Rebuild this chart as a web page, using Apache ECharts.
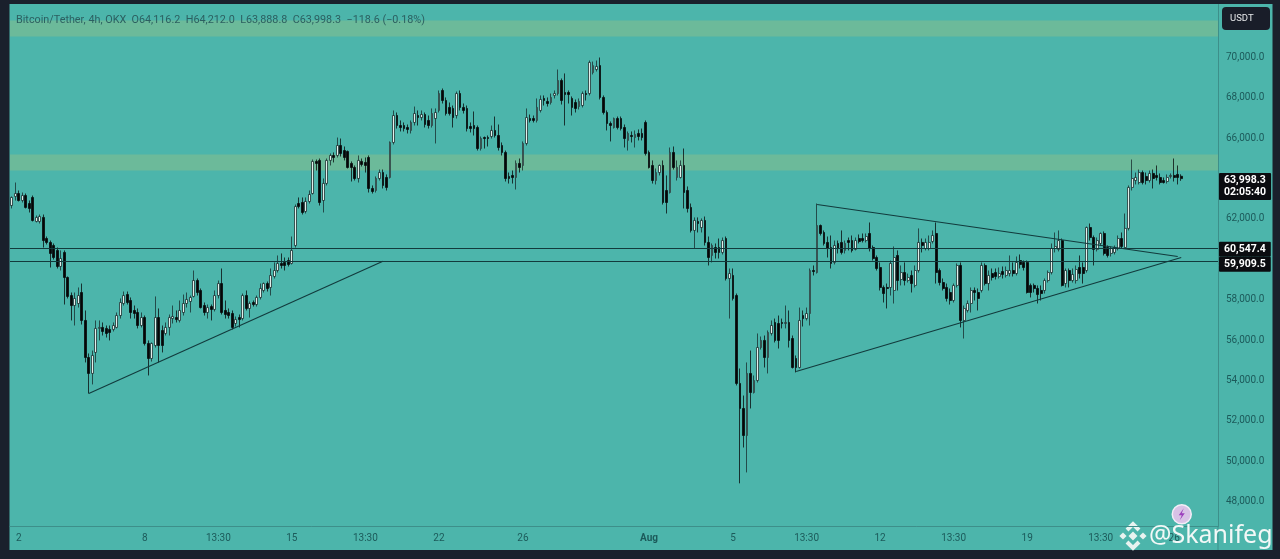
<!DOCTYPE html>
<html><head><meta charset="utf-8">
<style>html,body{margin:0;padding:0;background:#1a202c}#c{width:1280px;height:559px}</style>
<script src="https://cdn.jsdelivr.net/npm/echarts@6/dist/echarts.min.js"></script>
</head><body><div id="c"></div>
<script>
// Each row: [open, close, low, high]
const candlesJulyA = [
[62665,63065,62520,63115],[63115,63260,62915,63805],[63260,62915,62865,63410],[62915,63160,62815,63310],
[63160,62570,62520,63260],[62765,62520,62320,62915],[63065,61925,61875,63160],[61875,62075,61825,62170],
[61875,62120,61775,62220],[62075,60930,60585,62220],[61030,60835,60735,61130],[60835,60290,59595,60930],
[60685,60090,59990,60785],[60440,59645,59545,60585],[59645,60040,59445,60440],[60340,59100,57760,60440],
[59100,58160,58060,59150],[58205,57710,56970,58355],[57710,58060,56720,58355],[57810,58205,57610,58605],
[58355,56970,56770,58800],[56970,55135,54890,57465],[55135,54345,53350,55335],[54345,55235,53800,55480],
[55385,56575,54890,56970],[56575,56625,55980,56970],[56625,56425,56225,56870],[56575,56325,56125,56720],
[56525,56375,55980,56720],[56525,56720,56425,56870],[56625,57215,56575,57365],[57215,57860,57065,58060],
[57810,58205,57710,58405],[58255,57860,57760,58405],[57960,57365,57065,58110],[57465,57315,57065,57710],
[57365,56720,56575,57565],[56720,57115,56625,57365],[57115,55830,55730,57215],[55830,55085,54245,55980],
[55085,55830,54935,55880]];
const candlesJulyB = [
[55730,57115,55630,58160],[57115,55730,54890,57565],[56475,55730,55385,56720],[56325,56625,56225,56870],
[56625,57115,56225,57265],[57065,57165,56820,57710],[57115,57015,56870,57465],[56970,57465,56870,57960],
[57365,57810,57215,58255],[57810,58010,57610,58355],[57910,58110,57365,58205],[58160,58950,58110,59445],
[58950,58355,58205,59050],[58455,57610,57565,58555],[57710,57365,57215,57860],[57365,57610,57065,57760],
[57660,57515,56970,57760],[57515,58205,57415,58455],[58205,58800,58060,58950],[58800,57365,57265,59545],
[57465,57265,57065,57960],[57365,57215,57065,57565],[57315,56625,56525,57465],[56820,57015,56670,57165],
[57115,57015,56625,57265],[57065,58205,56970,58305],[58205,57565,57465,58455],[57565,57810,57115,57910],
[57860,57760,57660,57960],[57760,58110,57660,58205],[58110,58555,58010,58800],[58455,58800,58355,58850],
[58800,58555,58405,58900],[58605,59200,58205,59545],[59150,59445,59050,59845],[59445,59795,59345,60190],
[59795,59695,59545,60290],[59845,59695,59445,60090],[59940,59745,59645,60090],[59795,60440,59745,61130],
[60685,62615,60585,62715]];
const candlesJulyC = [
[62765,62615,62520,63065],[62815,62320,62220,63065],[62370,62865,62270,63065],[62865,63210,62765,63410],
[63260,64850,63210,64945],[64850,64750,64400,64945],[64900,62815,62665,64995],[62915,63760,62320,64005],
[63760,64900,63660,64995],[64900,65145,64650,65245],[65145,65045,64800,65295],[65145,65640,65045,66035],
[65640,65245,65095,65985],[65390,65045,64900,65590],[65345,64550,64500,65390],[64750,64550,63855,64850],
[64550,64005,63905,64650],[64005,64900,63805,65145],[64850,64700,64600,64995],[64800,64650,64300,65045],
[65045,63510,63310,65145],[63510,63360,63260,63660],[63410,64005,63310,64105],[64005,64300,63905,64450],
[64300,63660,63510,64450],[64055,63560,63410,64205],[64055,65790,64005,65840],[65790,67125,65690,67375],
[67125,66630,66480,67275],[66630,66530,66335,66880],[66630,66480,66335,66780],[66530,66435,66235,66680],
[66385,66780,66235,66880],[66780,67225,66630,67570],[67125,67025,66630,67375],[67025,67175,66880,67375],
[67175,66680,66530,67275],[66880,66630,66480,67125],[66630,67225,66530,67475],[66975,67275,65740,67475]];
const candlesJulyD = [
[67375,68215,67275,68365],[68365,67870,67720,68465],[67870,67225,67125,68020],[67525,67225,67125,67770],
[67475,67025,66530,67620],[67125,68215,66975,68315],[68215,67525,67375,68365],[67525,67375,67225,67720],
[67475,66480,66335,67620],[66580,66480,66285,66780],[66630,66480,66135,67325],[66530,65490,65390,66630],
[65490,65985,65390,66085],[66035,65985,65490,66085],[66035,65985,65590,66135],[66085,66385,65985,66630],
[66385,66135,66035,67075],[66135,65540,65390,66680],[65640,65295,65145,65790],[65295,64005,63855,65390],
[64105,64005,63755,64300],[64155,64055,63755,64400],[64055,64750,63460,64900],[64750,64550,64300,64995],
[64650,65740,64400,65840],[65740,67025,65640,67475],[66975,66880,66780,67175],[66975,66880,66780,67125],
[66880,67525,66780,67970],[67375,67920,67275,68120],[67970,67870,67620,68120],[67820,67720,67570,68020],
[67770,68020,67670,68215],[68120,68215,67970,68365],[68215,68860,68120,69405],[68860,67870,67670,68960],
[68265,68165,66630,69210],[68265,68165,67720,68365],[67970,67525,67125,68070],[67770,67475,67275,67920],
[67570,67820,67425,67970],[67620,68215,67525,68315],[68215,68165,67870,68365],[68215,69755,68120,69850]];
const candlesAugA = [
[69255,69600,69160,69800],[69405,69555,69305,69850],[69600,68020,67920,70000],[68020,67275,67175,68120],
[67275,66730,66385,67375],[66730,66630,65840,66830],[66530,66975,66480,67025],[66975,66530,66435,67075],
[66975,66480,66385,67075],[66530,65985,65540,66680],[65890,66235,65390,66335],[66135,66085,65790,66335],
[66035,66185,65540,66385],[66235,66085,65890,66435],[66235,66035,65890,66480],[66780,65245,65145,66880],
[65295,64550,64500,65390],[64650,63905,63755,64900],[63905,64300,63710,64500],[64300,64650,64155,64700],
[64650,62815,62715,64900],[63410,62815,62270,64155],[63310,65295,63260,65540],[65295,64550,64450,65590],
[64055,64550,63905,64900],[64055,64650,64005,64900],[64650,63310,62520,65490],[63410,62520,62320,63610],
[62570,61430,61330,62765],[61430,61925,60535,62075],[61875,61775,61330,62075],[61575,61925,61330,62025],
[61925,60835,60685,62120],[60835,60090,59695,61130],[60190,60685,59845,60785],[60585,60340,60040,60785],
[60585,60340,60040,61030],[60340,60930,60240,61080],[61030,59050,58950,61130],[59050,59295,57065,59545],
[59200,58060,57960,59545],[58205,53850,53750,58305]];
const candlesAugB = [
[53850,52610,48900,54590],[52610,51270,50675,53250],[51270,54345,49440,54890],[54345,53400,52610,55480],
[53400,53995,53350,54245],[53995,55630,53895,56325],[55630,55980,55530,56175],[55980,55135,54640,56225],
[55135,56375,54345,56475],[56325,56720,56225,56970],[56870,55980,55880,57065],[56820,55980,55580,57215],
[56870,56820,56575,57065],[56820,56870,56575,57710],[56870,55980,55630,57465],[56075,54640,54590,56225],
[55085,54640,54395,55235],[54640,56970,54590,57610],[57215,57065,56670,57465],[57065,57315,56970,57610],
[57315,59445,56720,59545],[59445,59395,59200,59695],[59345,61675,59295,62765],[61675,61280,61180,61725],
[61330,60785,60685,61430],[60835,60535,60090,61130],[60585,59795,59545,61180],[59845,60685,59745,60930],
[60785,60535,60290,60930],[60835,60340,60240,61430],[60440,60785,60290,60930],[60930,60835,60440,61080],
[60930,60440,60340,61180],[60490,60930,60440,61080],[61030,60880,60785,61230],[61030,60930,60835,61280],
[60930,61130,60835,61280],[61280,60535,60390,61825],[60585,60040,59940,60685],[60090,59545,59445,60190],
[59595,58605,58455,59845],[58605,58305,57860,58705],[58605,58555,57565,58800]];
const candlesAugC = [
[58605,59795,58205,59940],[58455,60090,57810,60635],[60190,58950,58455,60440],[59000,59345,58705,59695],
[59345,58950,58705,59845],[58950,59100,58850,59295],[59200,58800,58355,59445],[58705,59445,58605,59695],
[59445,60835,59345,61530],[60835,60685,60340,61030],[60535,60835,60440,61030],[60535,60835,60440,61180],
[60885,61180,60785,61430],[61280,59345,58800,61825],[59445,58850,58705,59545],[58850,58555,58455,59050],
[58605,58060,57910,58800],[58355,57960,57760,58555],[57960,58705,57860,58800],[58705,59695,58605,59795],
[59695,56970,56625,59845],[56970,57565,56075,57710],[57465,57810,57365,57960],[57810,58455,57365,58605],
[58455,58355,57960,58605],[58355,58060,57465,58555],[58455,59695,58355,59845],[59695,58800,58705,59795],
[58800,59200,58455,59445],[59295,59100,58950,59545],[59345,59150,59000,59545],[59150,59295,59050,59595],
[59395,59250,59050,59645],[59200,59445,59100,59645],[59295,59445,59150,60190],[59445,59295,59150,59845],
[59295,59845,59200,60140],[59940,59745,59545,60240],[59845,59595,59445,59940],[59845,58355,58305,59940],
[58705,58355,58110,58800],[58705,58555,58355,58800],[58555,58255,57810,58705],[58455,58305,57960,58705],
[58455,58950,58305,59050],[58950,59345,58850,59445]];
const candlesAugD = [
[59345,60535,59250,60785],[60535,60635,60340,61330],[60490,60930,60390,61430],[60930,58705,58655,61030],
[58800,59445,58605,59545],[59445,58950,58605,59545],[58950,59250,58850,59545],[58950,59495,58800,59695],
[59595,59295,59050,60190],[59595,59295,58800,59845],[59445,61575,59345,61625],[61575,61080,60930,61775],
[61080,60490,59695,61180],[60490,60930,60390,61080],[60785,61280,60685,61330],[61280,60290,60190,61380],
[60585,60190,60090,60685],[60290,60535,60140,60635],[60340,60585,60240,60685],[60535,61030,60440,61180],
[61030,60635,60535,61330],[60585,61530,60535,62270],[61530,63560,61430,63660],[63560,64005,63410,64945],
[63905,64055,63710,64300],[63805,64300,63710,64450],[64300,63805,63710,64400],[64105,63905,63710,64300],
[63905,64255,63805,64400],[64255,64005,63510,64450],[64155,64055,63905,64650],[64055,63805,63710,64255],
[63905,63805,63755,64055],[63855,64055,63755,64205],[64105,64155,64005,64255],[64155,64055,63855,64995],
[64205,64055,63710,64650],[64116.2,63998.3,63888.8,64212]];

const slotCount = 345;
const xTickIndex = [2,38,59,80,101,122,146,182,206,227,248,269,290,311,332];
const xTickLabels = ['2','8','13:30','15','13:30','22','26','Aug','5','13:30','12','13:30','19','13:30','26'];
const yTicks = [48000,50000,52000,54000,56000,58000,60000,62000,66000,68000,70000];
const yMin = 46761, yMax = 72626;
const zones = [[71040,71833],[64400,65194]];
const levelPrices = [60547.4,59909.5];
const lastPrice = 63998.3, countdown = '02:05:40';
const trendA = [[22,53350],[106,59909.5]];
const trendB = [[224,54440],[334,60090]];
const trendC = [[230,62715],[333,60140]];
const headerText = 'Bitcoin/Tether, 4h, OKX  O64,116.2  H64,212.0  L63,888.8  C63,998.3  −118.6 (−0.18%)';

const candles = [].concat(candlesJulyA,candlesJulyB,candlesJulyC,candlesJulyD,candlesAugA,candlesAugB,candlesAugC,candlesAugD);
const categories = Array.from({length:slotCount},(_,i)=>String(i));
const fmt = v => v.toLocaleString('en-US',{minimumFractionDigits:1,maximumFractionDigits:1});
const ink = '#123a3c', axisInk='#1c5a5a', axisLine='#3d8f8a';
const tag = {show:true,position:'end',distance:1,formatter:p=>fmt(p.value),backgroundColor:'#0b0c10',color:'#fff',
  fontFamily:'Roboto',fontWeight:'bold',fontSize:10.5,padding:[2,5,1,5],lineHeight:12,borderRadius:1};
const trend = (d,name)=>({name,type:'line',data:d,symbol:'none',silent:true,z:4,lineStyle:{color:ink,width:1.1},animation:false});

const chart = echarts.init(document.getElementById('c'),null,{renderer:'canvas'});
chart.setOption({
  animation:false,
  backgroundColor:'#1a202c',
  title:{text:headerText,left:11,top:10,textStyle:{fontFamily:'Roboto',fontSize:10.8,fontWeight:'normal',color:'#2c5f60'}},
  grid:{left:10,right:62,top:4.5,bottom:32.5},
  xAxis:{type:'category',data:categories,
    axisLine:{show:true,onZero:false,lineStyle:{color:axisLine,width:1}},axisTick:{show:false},splitLine:{show:false},
    axisLabel:{hideOverlap:false,margin:7,color:axisInk,fontFamily:'Roboto',fontSize:10,
      interval:i=>xTickIndex.includes(i),
      formatter:(v,i)=>{const k=xTickIndex.indexOf(i);if(k<0)return '';const s=xTickLabels[k];return s==='Aug'?'{b|Aug}':s;},
      rich:{b:{fontWeight:'bold',fontFamily:'Roboto',fontSize:10,color:axisInk}}}},
  yAxis:{type:'value',position:'right',min:yMin,max:yMax,scale:true,
    axisLine:{show:true,onZero:false,lineStyle:{color:axisLine,width:1}},axisTick:{show:false},splitLine:{show:false},
    axisLabel:{margin:8,color:axisInk,fontFamily:'Roboto',fontSize:10,padding:[3,0,0,0],customValues:yTicks,formatter:v=>fmt(v)}},
  series:[
    {type:'candlestick',name:'BTCUSDT',data:candles,barWidth:2.3,silent:true,z:3,
      itemStyle:{color:'#e2efeb',color0:'#050607',borderColor:'#16282a',borderColor0:'#050607',borderWidth:0.75},
      markArea:{silent:true,z:1,itemStyle:{color:'#6cba9a'},data:zones.map(z=>[{yAxis:z[0]},{yAxis:z[1]}])},
      markLine:{silent:true,symbol:'none',animation:false,z:4,
        data:[
          {yAxis:levelPrices[0],lineStyle:{color:ink,width:1,type:'solid'},label:{...tag,offset:[0,1]}},
          {yAxis:levelPrices[1],lineStyle:{color:ink,width:1,type:'solid'},label:{...tag,offset:[0,3]}},
          {yAxis:lastPrice,lineStyle:{color:'rgba(0,0,0,0)',width:0},label:{...tag,offset:[0,8],formatter:()=>fmt(lastPrice)+'\n'+countdown}}
        ]}},
    trend(trendA,'trendA'),trend(trendB,'trendB'),trend(trendC,'trendC')
  ],
  graphic:[
    {type:'rect',z:-10,silent:true,shape:{x:9.5,y:4,width:1263,height:546},style:{fill:'#4cb5ab'}},
    {type:'line',z:-5,silent:true,shape:{x1:1218,y1:526,x2:1218,y2:550},style:{stroke:axisLine,lineWidth:1}},
    {type:'group',z:50,silent:true,left:1222,top:7,children:[
      {type:'rect',shape:{x:0,y:0,width:48,height:23,r:4},style:{fill:'#191d29'}},
      {type:'text',style:{x:8,y:7,text:'USDT',fill:'#e6e8ea',fontFamily:'Roboto',fontSize:9.5}}]},
    {type:'group',z:60,silent:true,left:1171.5,top:504,children:[
      {type:'circle',shape:{cx:10,cy:10,r:9.5},style:{fill:'#d8c2e6',stroke:'#f3eef7',lineWidth:1.5}},
      {type:'polygon',shape:{points:[[12,4],[7,11],[10,11],[8,16],[13,9],[10,9]]},style:{fill:'#9c3fbd'}}]},
    {type:'group',z:60,silent:true,x:1133,y:536,children:[
      {type:'polygon',shape:{points:[[0,-4.5],[4.5,0],[0,4.5],[-4.5,0]]},style:{fill:'#e8f3f0'}},
      {type:'polygon',shape:{points:[[-10,-3.6],[-6.4,0],[-10,3.6],[-13.6,0]]},style:{fill:'#e8f3f0'}},
      {type:'polygon',shape:{points:[[10,-3.6],[13.6,0],[10,3.6],[6.4,0]]},style:{fill:'#e8f3f0'}},
      {type:'polyline',shape:{points:[[-6,-6],[0,-12],[6,-6]]},style:{stroke:'#e8f3f0',lineWidth:4,fill:'none'}},
      {type:'polyline',shape:{points:[[-6,6],[0,12],[6,6]]},style:{stroke:'#e8f3f0',lineWidth:4,fill:'none'}}]},
    {type:'text',z:60,silent:true,left:1149,top:523,style:{text:'@Skanifeg',fill:'#f3f8f7',fontFamily:'Noto Sans',fontSize:25}}
  ]
});
</script></body></html>
